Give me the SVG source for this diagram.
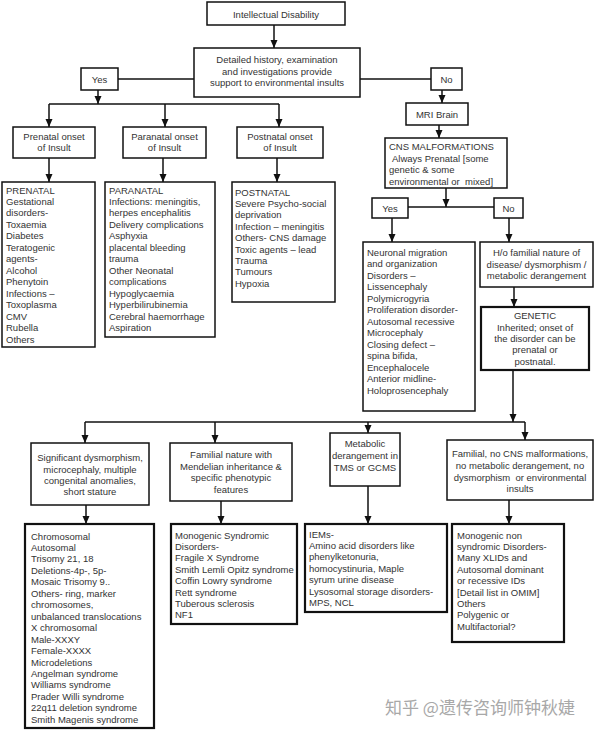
<svg xmlns="http://www.w3.org/2000/svg" width="600" height="733" viewBox="0 0 600 733">
<style>
rect{fill:#fff;stroke:#111;stroke-width:1.5}
rect.thick{stroke-width:2.2}
text{font-family:"Liberation Sans",Arial,sans-serif;font-size:9.5px;fill:#333}
.c{text-anchor:middle}
.cn line,.cn path{stroke:#111;stroke-width:1.5;fill:none}
.wm{font-family:"Noto Sans CJK SC","Liberation Sans",sans-serif;font-size:17px;fill:#a8a8a8}
</style>
<defs>
<marker id="ah" viewBox="0 0 8 8" refX="8" refY="4" markerWidth="8" markerHeight="8" markerUnits="userSpaceOnUse" orient="auto">
<path d="M0,0.5 L8,4 L0,7.5 z" fill="#111"/>
</marker>
</defs>
<rect width="600" height="733" style="fill:#fff;stroke:none"/>
<g class="cn" id="connectors">
<line x1="274" y1="25" x2="274" y2="48" marker-end="url(#ah)"/>
<line x1="118" y1="79" x2="194" y2="79"/>
<line x1="360" y1="79" x2="431" y2="79"/>
<line x1="98" y1="90" x2="98" y2="104" marker-end="url(#ah)"/>
<line x1="49" y1="104" x2="279" y2="104"/>
<line x1="49" y1="104" x2="49" y2="127" marker-end="url(#ah)"/>
<line x1="165" y1="104" x2="165" y2="127" marker-end="url(#ah)"/>
<line x1="279" y1="104" x2="279" y2="127" marker-end="url(#ah)"/>
<line x1="49" y1="158" x2="49" y2="182" marker-end="url(#ah)"/>
<line x1="163" y1="158" x2="163" y2="182" marker-end="url(#ah)"/>
<line x1="277" y1="158" x2="277" y2="182" marker-end="url(#ah)"/>
<line x1="442" y1="90" x2="442" y2="103" marker-end="url(#ah)"/>
<line x1="439" y1="125" x2="439" y2="138" marker-end="url(#ah)"/>
<line x1="446" y1="188" x2="446" y2="207" marker-end="url(#ah)"/>
<line x1="408" y1="207" x2="494" y2="207"/>
<line x1="392" y1="218" x2="392" y2="242" marker-end="url(#ah)"/>
<line x1="509" y1="218" x2="509" y2="242" marker-end="url(#ah)"/>
<line x1="514" y1="287" x2="514" y2="307" marker-end="url(#ah)"/>
<line x1="513" y1="370" x2="513" y2="422" marker-end="url(#ah)"/>
<line x1="85" y1="422" x2="525" y2="422"/>
<line x1="85" y1="422" x2="85" y2="443" marker-end="url(#ah)"/>
<line x1="215" y1="422" x2="215" y2="443" marker-end="url(#ah)"/>
<line x1="368" y1="422" x2="368" y2="433" marker-end="url(#ah)"/>
<line x1="525" y1="422" x2="525" y2="440" marker-end="url(#ah)"/>
<line x1="86" y1="505" x2="86" y2="524" marker-end="url(#ah)"/>
<line x1="221" y1="501" x2="221" y2="524" marker-end="url(#ah)"/>
<line x1="368" y1="486" x2="368" y2="524" marker-end="url(#ah)"/>
<line x1="509" y1="500" x2="509" y2="524" marker-end="url(#ah)"/>
</g>
<g id="n-id"><rect x="207" y="2" width="138" height="23"/><text class="c" x="276" y="17.5">Intellectual Disability</text></g>
<g id="n-history"><rect x="194" y="48" width="166" height="49"/>
<text class="c" x="277" y="62.5">Detailed history, examination</text>
<text class="c" x="277" y="74.5">and investigations provide</text>
<text class="c" x="277" y="85.5">support to environmental insults</text></g>
<g id="n-yes1"><rect x="81" y="68" width="37" height="22"/><text class="c" x="99.5" y="82.5">Yes</text></g>
<g id="n-no1"><rect x="431" y="68" width="31" height="22"/><text class="c" x="446.5" y="82.5">No</text></g>
<g id="n-mri"><rect x="406" y="103" width="62" height="22"/><text class="c" x="437" y="117.5">MRI Brain</text></g>
<g id="n-pre"><rect x="13" y="127" width="82" height="31"/><text class="c" x="54" y="139.5">Prenatal onset</text><text class="c" x="54" y="150.5">of Insult</text></g>
<g id="n-para"><rect x="123" y="127" width="83" height="31"/><text class="c" x="164.5" y="139.5">Paranatal onset</text><text class="c" x="164.5" y="150.5">of Insult</text></g>
<g id="n-post"><rect x="237" y="127" width="86" height="31"/><text class="c" x="280" y="139.5">Postnatal onset</text><text class="c" x="280" y="150.5">of Insult</text></g>
<g id="n-prelist"><rect x="2" y="182" width="93" height="165"/>
<text x="6" y="193.5">PRENATAL</text>
<text x="6" y="205">Gestational</text>
<text x="6" y="216.4">disorders-</text>
<text x="6" y="227.9">Toxaemia</text>
<text x="6" y="239.3">Diabetes</text>
<text x="6" y="250.8">Teratogenic</text>
<text x="6" y="262.3">agents-</text>
<text x="6" y="273.7">Alcohol</text>
<text x="6" y="285.2">Phenytoin</text>
<text x="6" y="296.6">Infections –</text>
<text x="6" y="308.1">Toxoplasma</text>
<text x="6" y="319.6">CMV</text>
<text x="6" y="331">Rubella</text>
<text x="6" y="342.5">Others</text></g>
<g id="n-paralist"><rect x="105" y="182" width="110" height="155"/>
<text x="109" y="193.5">PARANATAL</text>
<text x="109" y="205">Infections: meningitis,</text>
<text x="109" y="216.4">herpes encephalitis</text>
<text x="109" y="227.9">Delivery complications</text>
<text x="109" y="239.3">Asphyxia</text>
<text x="109" y="250.8">placental bleeding</text>
<text x="109" y="262.3">trauma</text>
<text x="109" y="273.7">Other Neonatal</text>
<text x="109" y="285.2">complications</text>
<text x="109" y="296.6">Hypoglycaemia</text>
<text x="109" y="308.1">Hyperbilirubinemia</text>
<text x="109" y="319.6">Cerebral haemorrhage</text>
<text x="109" y="331">Aspiration</text></g>
<g id="n-postlist"><rect x="232" y="182" width="103" height="120"/>
<text x="235" y="195.5">POSTNATAL</text>
<text x="235" y="206.9">Severe Psycho-social</text>
<text x="235" y="218.3">deprivation</text>
<text x="235" y="229.7">Infection – meningitis</text>
<text x="235" y="241.1">Others- CNS damage</text>
<text x="235" y="252.5">Toxic agents – lead</text>
<text x="235" y="263.9">Trauma</text>
<text x="235" y="275.3">Tumours</text>
<text x="235" y="286.7">Hypoxia</text></g>
<g id="n-cns"><rect x="385" y="138" width="122" height="50"/>
<text x="389" y="149.5">CNS MALFORMATIONS</text>
<text x="392" y="161.5">Always Prenatal [some</text>
<text x="389" y="172.5">genetic &amp; some</text>
<text x="389" y="184.5" xml:space="preserve">environmental or  mixed]</text></g>
<g id="n-yes2"><rect x="372" y="198" width="36" height="20"/><text class="c" x="390" y="211.5">Yes</text></g>
<g id="n-no2"><rect x="494" y="198" width="29" height="20"/><text class="c" x="508.5" y="211.5">No</text></g>
<g id="n-neuro"><rect x="363" y="242" width="112" height="169"/>
<text x="367" y="255.5">Neuronal migration</text>
<text x="367" y="267">and organization</text>
<text x="367" y="278.5">Disorders –</text>
<text x="367" y="290">Lissencephaly</text>
<text x="367" y="301.5">Polymicrogyria</text>
<text x="367" y="313">Proliferation disorder-</text>
<text x="367" y="324.5">Autosomal recessive</text>
<text x="367" y="336">Microcephaly</text>
<text x="367" y="347.5">Closing defect –</text>
<text x="367" y="359">spina bifida,</text>
<text x="367" y="370.5">Encephalocele</text>
<text x="367" y="382">Anterior midline-</text>
<text x="367" y="393.5">Holoprosencephaly</text></g>
<g id="n-ho"><rect x="480" y="242" width="113" height="45"/>
<text class="c" x="536.5" y="255.5">H/o familial nature of</text>
<text class="c" x="536.5" y="267.5">disease/ dysmorphism /</text>
<text class="c" x="536.5" y="278.5">metabolic derangement</text></g>
<g id="n-genetic"><rect class="thick" x="481" y="307" width="108" height="63"/>
<text class="c" x="535" y="318.5">GENETIC</text>
<text class="c" x="535" y="330.5">Inherited; onset of</text>
<text class="c" x="535" y="341.5">the disorder can be</text>
<text class="c" x="535" y="352.5">prenatal or</text>
<text class="c" x="535" y="364.5">postnatal.</text></g>
<g id="n-dys"><rect x="31" y="443" width="118" height="62"/>
<text class="c" x="90" y="460.5">Significant dysmorphism,</text>
<text class="c" x="90" y="472.5">microcephaly, multiple</text>
<text class="c" x="90" y="483.5">congenital anomalies,</text>
<text class="c" x="90" y="494.5">short stature</text></g>
<g id="n-fam"><rect x="170" y="443" width="122" height="58"/>
<text class="c" x="231" y="457.5">Familial nature with</text>
<text class="c" x="231" y="469.5">Mendelian inheritance &amp;</text>
<text class="c" x="231" y="480.5">specific phenotypic</text>
<text class="c" x="231" y="492.5">features</text></g>
<g id="n-met"><rect x="330" y="433" width="70" height="53"/>
<text class="c" x="365" y="446.5">Metabolic</text>
<text class="c" x="365" y="458.5">derangement in</text>
<text class="c" x="365" y="470.5">TMS or GCMS</text></g>
<g id="n-famno"><rect x="447" y="440" width="146" height="60"/>
<text class="c" x="520" y="456.5">Familial, no CNS malformations,</text>
<text class="c" x="520" y="468.5">no metabolic derangement, no</text>
<text class="c" x="520" y="480.5" xml:space="preserve">dysmorphism  or environmental</text>
<text class="c" x="520" y="491.5">insults</text></g>
<g id="n-chrom"><rect class="thick" x="25" y="524" width="129" height="204"/>
<text x="31" y="539.5">Chromosomal</text>
<text x="31" y="551">Autosomal</text>
<text x="31" y="562.4">Trisomy 21, 18</text>
<text x="31" y="573.9">Deletions-4p-, 5p-</text>
<text x="31" y="585.3">Mosaic Trisomy 9..</text>
<text x="31" y="596.8">Others- ring, marker</text>
<text x="31" y="608.2">chromosomes,</text>
<text x="31" y="619.7">unbalanced translocations</text>
<text x="31" y="631.1">X chromosomal</text>
<text x="31" y="642.6">Male-XXXY</text>
<text x="31" y="654">Female-XXXX</text>
<text x="31" y="665.5">Microdeletions</text>
<text x="31" y="676.9">Angelman syndrome</text>
<text x="31" y="688.4">Williams syndrome</text>
<text x="31" y="699.8">Prader Willi syndrome</text>
<text x="31" y="711.3">22q11 deletion syndrome</text>
<text x="31" y="722.7">Smith Magenis syndrome</text></g>
<g id="n-monosyn"><rect class="thick" x="171" y="524" width="126" height="100"/>
<text x="175" y="538.5">Monogenic Syndromic</text>
<text x="175" y="549.9">Disorders-</text>
<text x="175" y="561.3">Fragile X Syndrome</text>
<text x="175" y="572.7">Smith Lemli Opitz syndrome</text>
<text x="175" y="584.1">Coffin Lowry syndrome</text>
<text x="175" y="595.5">Rett syndrome</text>
<text x="175" y="606.9">Tuberous sclerosis</text>
<text x="175" y="618.3">NF1</text></g>
<g id="n-iem"><rect class="thick" x="305" y="524" width="142" height="88"/>
<text x="309" y="537.5">IEMs-</text>
<text x="309" y="548.9">Amino acid disorders like</text>
<text x="309" y="560.3">phenylketonuria,</text>
<text x="309" y="571.7">homocystinuria, Maple</text>
<text x="309" y="583.1">syrum urine disease</text>
<text x="309" y="594.5">Lysosomal storage disorders-</text>
<text x="309" y="605.9">MPS, NCL</text></g>
<g id="n-mononon"><rect class="thick" x="452" y="524" width="112" height="118"/>
<text x="457" y="538.5">Monogenic non</text>
<text x="457" y="549.9">syndromic Disorders-</text>
<text x="457" y="561.3">Many XLIDs and</text>
<text x="457" y="572.7">Autosomal dominant</text>
<text x="457" y="584.1">or recessive IDs</text>
<text x="457" y="595.5">[Detail list in OMIM]</text>
<text x="457" y="606.9">Others</text>
<text x="457" y="618.3">Polygenic or</text>
<text x="457" y="629.7">Multifactorial?</text></g>
<text class="wm" x="385" y="714">知乎 @遗传咨询师钟秋婕</text>
</svg>
